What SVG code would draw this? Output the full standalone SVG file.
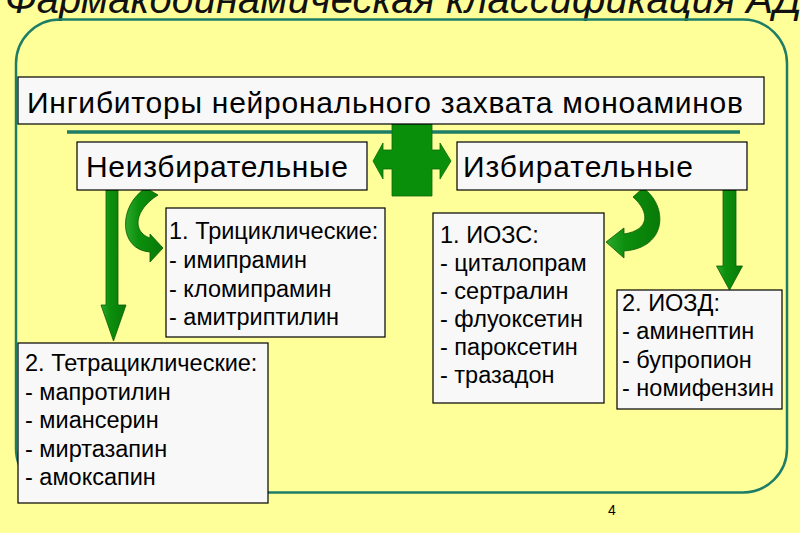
<svg xmlns="http://www.w3.org/2000/svg" width="800" height="533" viewBox="0 0 800 533">
<defs>
<style>
.bg{fill:#FFFF99}
.frame{fill:none;stroke:#1E7D66;stroke-width:2.5}
.box{fill:#F8F8F8;stroke:#000;stroke-width:1.2}
.t{font-family:"Liberation Sans",Arial,sans-serif;fill:#000}
.big{font-size:30px}
.mid{font-size:30px}
.lst{font-size:23.5px}
.arr{fill:url(#g);stroke:#0A5A0A;stroke-width:0.8}
.title{font-family:"Liberation Sans",Arial,sans-serif;font-style:italic;font-size:40px;fill:#111}
</style>
<linearGradient id="g" x1="0" y1="0" x2="1" y2="0">
<stop offset="0" stop-color="#2DA82D"/>
<stop offset="0.35" stop-color="#0C8F0C"/>
<stop offset="1" stop-color="#087A08"/>
</linearGradient>
</defs>
<rect class="bg" x="0" y="0" width="800" height="533"/>
<text class="title" x="5" y="13">Фармакодинамическая классификация АД</text>
<rect class="frame" x="16" y="19.5" width="771" height="473" rx="44" ry="44"/>
<line x1="67" y1="132" x2="740" y2="132" stroke="#1E7D66" stroke-width="3.5"/>

<g id="connectors">
<path class="arr" d="M106,190 H118 V305 H126 L113.5,341 L101,305 H106 Z"/>
<path class="arr" d="M723,190 H736 V266 H742.5 L729.5,290 L716.5,266 H723 Z"/>
<path class="arr" d="M146,188 C118,205 118,250 150,252 L150,262 L163,248 L150,234 L150,238 C132,232 134,210 158,195 Z"/>
<path class="arr" d="M643,188 C668,205 668,248 624,251 L624,258 L606,242 L624,228 L624,234 C650,230 650,212 633,197 Z"/>
<path fill="#0A8F0A" stroke="#0A6A0A" stroke-width="0.8" d="M392,124 H432 V150 H440 V143 L451,161 L440,179 V169 H432 V196 H392 V169 H383 V179 L373,161 L383,143 V150 H392 Z"/>
</g>

<g id="main">
<rect class="box" x="18" y="77" width="746" height="47"/>
<text class="t big" x="27" y="113" textLength="716">Ингибиторы нейронального захвата моноаминов</text>
</g>
<g id="nonselective">
<rect class="box" x="77" y="142" width="290" height="48"/>
<text class="t mid" x="86" y="177" textLength="262">Неизбирательные</text>
</g>
<g id="selective">
<rect class="box" x="457" y="142" width="290" height="48"/>
<text class="t mid" x="463" y="177" textLength="230">Избирательные</text>
</g>
<g id="tricyclic">
<rect class="box" x="166" y="208" width="219" height="129"/>
<text class="t lst" x="169" y="239">1. Трициклические:</text>
<text class="t lst" x="169" y="268">- имипрамин</text>
<text class="t lst" x="169" y="297">- кломипрамин</text>
<text class="t lst" x="169" y="325">- амитриптилин</text>
</g>
<g id="ssri">
<rect class="box" x="433" y="213" width="171" height="190"/>
<text class="t lst" x="440" y="243">1. ИОЗС:</text>
<text class="t lst" x="440" y="271">- циталопрам</text>
<text class="t lst" x="440" y="299">- сертралин</text>
<text class="t lst" x="440" y="327">- флуоксетин</text>
<text class="t lst" x="440" y="355">- пароксетин</text>
<text class="t lst" x="440" y="383">- тразадон</text>
</g>
<g id="dri">
<rect class="box" x="617" y="290" width="165" height="119"/>
<text class="t lst" x="622" y="311">2. ИОЗД:</text>
<text class="t lst" x="622" y="339">- аминептин</text>
<text class="t lst" x="622" y="368">- бупропион</text>
<text class="t lst" x="622" y="396">- номифензин</text>
</g>
<g id="tetracyclic">
<rect class="box" x="18" y="343" width="250" height="160"/>
<text class="t lst" x="25" y="371">2. Тетрациклические:</text>
<text class="t lst" x="25" y="400">- мапротилин</text>
<text class="t lst" x="25" y="428">- миансерин</text>
<text class="t lst" x="25" y="457">- миртазапин</text>
<text class="t lst" x="25" y="485">- амоксапин</text>
</g>
<text class="t" x="608" y="515" font-size="14">4</text>
</svg>
